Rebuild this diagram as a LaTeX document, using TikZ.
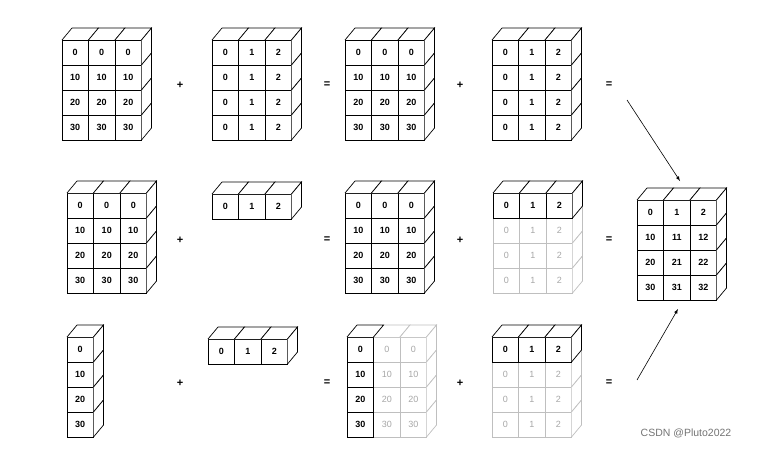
\documentclass[tikz,border=0pt]{standalone}
\usepackage{fontspec}
\setmainfont{Liberation Sans}
\def\cw{26.5}\def\ch{25}\def\dx{10}\def\dy{12}
\tikzset{dk/.style={draw=black,line width=0.7pt,text=black,font=\fontsize{9}{10}\selectfont\bfseries},
lt/.style={draw=black!25,line width=0.7pt,text=black!35,font=\fontsize{9}{10}\selectfont},
op/.style={font=\fontsize{11}{12}\selectfont\bfseries},
arr/.style={-latex,line width=0.6pt}}
\newcommand\grid[4]{%
\foreach \row [count=\r from 0] in {#3}{
 \foreach \v [count=\c from 0] in \row {
  \pgfmathsetmacro\xa{#1+\c*\cw}\pgfmathsetmacro\ya{#2+\r*\ch}
  \draw[#4] (\xa,\ya) rectangle ++(\cw,\ch);
  \node[#4,draw=none] at (\xa+\cw/2,\ya+\ch/2) {\v};
 }}}
\newcommand\tops[4]{\foreach \c in {1,...,#3}{\draw[#4,fill=white] ({#1+(\c-1)*\cw},#2) -- ++(\dx,-\dy) -- ++(\cw,0) -- ++(-\dx,\dy);}}
\newcommand\side[4]{\foreach \r in {1,...,#3}{\draw[#4,fill=white] (#1,{#2+(\r-1)*\ch}) -- ++(\dx,-\dy) -- ++(0,\ch) -- ++(-\dx,\dy);}}
\newcommand\full[6]{\grid{#1}{#2}{#3}{#6}\tops{#1}{#2}{#4}{#6}\side{#1+#4*\cw}{#2}{#5}{#6}}
\begin{document}
\begin{tikzpicture}[x=1pt,y=-1pt]
\useasboundingbox (0,0) rectangle (762,449);
% row 1
\full{62}{40}{{0,0,0},{10,10,10},{20,20,20},{30,30,30}}{3}{4}{dk}
\full{212}{40}{{0,1,2},{0,1,2},{0,1,2},{0,1,2}}{3}{4}{dk}
\full{345}{40}{{0,0,0},{10,10,10},{20,20,20},{30,30,30}}{3}{4}{dk}
\full{492}{40}{{0,1,2},{0,1,2},{0,1,2},{0,1,2}}{3}{4}{dk}
% row 2
\full{67}{193}{{0,0,0},{10,10,10},{20,20,20},{30,30,30}}{3}{4}{dk}
\full{212}{194}{{0,1,2}}{3}{1}{dk}
\full{345}{193}{{0,0,0},{10,10,10},{20,20,20},{30,30,30}}{3}{4}{dk}
\grid{493}{218}{{0,1,2},{0,1,2},{0,1,2}}{lt}\side{572.5}{218}{3}{lt}
\full{493}{193}{{0,1,2}}{3}{1}{dk}
% row 3
\full{67}{337}{{0},{10},{20},{30}}{1}{4}{dk}
\full{208}{339}{{0,1,2}}{3}{1}{dk}
\grid{373.5}{337}{{0,0},{10,10},{20,20},{30,30}}{lt}\tops{373.5}{337}{2}{lt}\side{426.5}{337}{4}{lt}
\grid{347}{337}{{0},{10},{20},{30}}{dk}\tops{347}{337}{1}{dk}
\grid{492}{362}{{0,1,2},{0,1,2},{0,1,2}}{lt}\side{571.5}{362}{3}{lt}
\full{492}{337}{{0,1,2}}{3}{1}{dk}
% result
\full{637}{200}{{0,1,2},{10,11,12},{20,21,22},{30,31,32}}{3}{4}{dk}
% operators
\foreach \y/\n in {85/a,240/b,383/c}{
 \node[op] (p1\n) at (180,\y) {+};
 \node[op] (e1\n) at (327,\y) {=};
 \node[op] (p2\n) at (460,\y) {+};
 \node[op] (e2\n) at (609,\y) {=};}
\coordinate (s1) at (627,100); \coordinate (t1) at (680,181);
\coordinate (s2) at (637,380); \coordinate (t2) at (678,309);
\draw[arr] (s1) -- (t1);
\draw[arr] (s2) -- (t2);
\node[text=black!55,font=\fontsize{10.5}{12}\selectfont] (wm) at (686,433) {CSDN @Pluto2022};
\end{tikzpicture}
\end{document}
